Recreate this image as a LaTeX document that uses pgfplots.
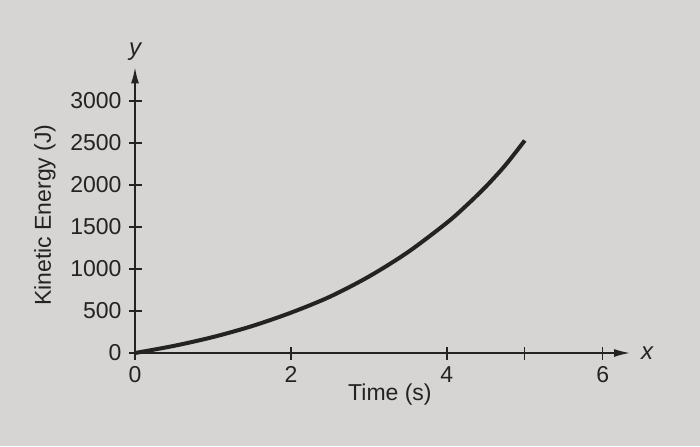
\documentclass[border=0pt]{standalone}
\usepackage{pgfplots}
\pgfplotsset{compat=1.18}
\usepackage{fontspec}
\setmainfont{Liberation Sans}
\usetikzlibrary{arrows.meta}
\definecolor{paper}{RGB}{214,213,211}
\definecolor{ink}{RGB}{35,35,35}
\begin{document}
\begin{tikzpicture}
% background of the photo, 700x446 px at 0.5pt per px
\fill[paper] (0,0) rectangle (350pt,223pt);
\begin{axis}[
    at={(67.5pt,46.5pt)}, anchor=origin,
    scale only axis,
    width=247.5pt, height=142.8pt,
    xmin=0, xmax=6.35,
    ymin=0, ymax=3400,
    axis lines=left,
    axis line style={ink, line width=0.8pt, -{Latex[length=8pt,width=4pt]}},
    tick align=center,
    major tick length=6.5pt,
    tick style={ink, line width=0.7pt},
    xtick={0,2,4,5,6},
    xticklabels={0,2,4,,6},
    ytick={0,500,1000,1500,2000,2500,3000},
    ticklabel style={font=\fontsize{11.5}{13}\selectfont, text=ink},
    /pgf/number format/assume math mode=true,
    /pgf/number format/1000 sep={},
    xlabel={Time (s)},
    xlabel style={at={(axis description cs:0.515,0)}, anchor=center, yshift=-21pt,
        font=\fontsize{11.5}{13}\selectfont, text=ink},
    ylabel={Kinetic Energy (J)},
    ylabel style={at={(axis description cs:-0.182,0.483)}, anchor=center,
        font=\fontsize{11.5}{13}\selectfont, text=ink},
    clip=false,
]
\addplot[ink, line width=2pt, smooth] coordinates {
    (0,0)(0.5,85)(1,190)(1.5,320)(2,480)(2.5,670)(3,910)
    (3.5,1200)(4,1550)(4.25,1755)(4.5,1980)(4.75,2235)(5,2530)
};
\node[anchor=west, text=ink, font=\fontsize{12}{14}\selectfont\itshape] at (axis cs:6.35,0) {\,x};
\node[anchor=south, text=ink, font=\fontsize{12}{14}\selectfont\itshape] at (axis cs:0,3400) {y};
\end{axis}
\end{tikzpicture}
\end{document}
